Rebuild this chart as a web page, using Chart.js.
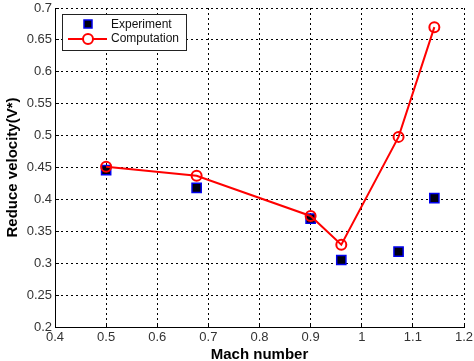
<!DOCTYPE html>
<html lang="en">

<head>
    <meta charset="UTF-8">
    <title>Reduce velocity vs Mach number</title>
    <script src="https://cdn.jsdelivr.net/npm/chart.js@4.4.0/dist/chart.umd.min.js"></script>
    <style>
        html, body { margin: 0; padding: 0; background: #fff; }
        #wrap { width: 474px; height: 361px; }
    </style>
</head>

<body>
    <div id="wrap"><canvas id="myChart" width="474" height="361"></canvas></div>

    <script>
        // values
        const machExp = [0.5, 0.677, 0.9, 0.96, 1.072, 1.142]
        const velExp = [0.446, 0.418, 0.37, 0.305, 0.318, 0.402]
        const machComp = [0.5, 0.677, 0.9, 0.96, 1.072, 1.142]
        const velComp = [0.451, 0.437, 0.374, 0.329, 0.498, 0.67]
        const xTicks = [0.4, 0.5, 0.6, 0.7, 0.8, 0.9, 1, 1.1, 1.2]
        const yTicks = [0.2, 0.25, 0.3, 0.35, 0.4, 0.45, 0.5, 0.55, 0.6, 0.65, 0.7]

        const FONT = "'Liberation Sans', Arial, sans-serif"

        const toPoints = (xs, ys) => xs.map((x, i) => ({ x: x, y: ys[i] }))

        // legend box drawn inside the plot, like matlab does
        const boxLegend = {
            id: 'boxLegend',
            afterDraw(chart) {
                const ctx = chart.ctx
                const a = chart.chartArea
                const x0 = a.left + 7, y0 = a.top + 6, w = 124, h = 36
                ctx.save()
                ctx.fillStyle = '#fff'
                ctx.fillRect(x0, y0, w, h)
                ctx.strokeStyle = '#222'
                ctx.lineWidth = 1
                ctx.strokeRect(x0 + 0.5, y0 + 0.5, w, h)

                const exp = chart.data.datasets[1]
                const comp = chart.data.datasets[0]
                const mx = x0 + 26
                const row1 = y0 + 10, row2 = y0 + 25

                // experiment marker
                ctx.fillStyle = exp.backgroundColor
                ctx.strokeStyle = exp.borderColor
                ctx.lineWidth = exp.borderWidth
                ctx.beginPath()
                ctx.rect(mx - 4, row1 - 4, 8, 8)
                ctx.fill()
                ctx.stroke()

                // computation line + circle
                ctx.strokeStyle = comp.borderColor
                ctx.lineWidth = comp.borderWidth
                ctx.beginPath()
                ctx.moveTo(x0 + 6, row2)
                ctx.lineTo(x0 + 45, row2)
                ctx.stroke()
                ctx.beginPath()
                ctx.arc(mx, row2, comp.pointRadius, 0, Math.PI * 2)
                ctx.fillStyle = '#fff'
                ctx.fill()
                ctx.stroke()

                ctx.fillStyle = '#111'
                ctx.font = '12px ' + FONT
                ctx.textBaseline = 'middle'
                ctx.textAlign = 'left'
                ctx.fillText(exp.label, x0 + 49, row1 + 1)
                ctx.fillText(comp.label, x0 + 49, row2)
                ctx.restore()
            }
        }

        function fixSize(size) {
            return function (scale) {
                if (scale.isHorizontal()) scale.height = size
                else scale.width = size
                scale.paddingTop = 0
                scale.paddingBottom = 0
                scale.paddingLeft = 0
                scale.paddingRight = 0
            }
        }

        const ctx = document.getElementById('myChart').getContext('2d')
        const myChart = new Chart(ctx, {
            type: 'scatter',
            data: {
                datasets: [{
                    label: 'Computation',
                    data: toPoints(machComp, velComp),
                    showLine: true,
                    borderColor: '#ff0000',
                    backgroundColor: 'rgba(255,255,255,0)',
                    borderWidth: 2,
                    pointStyle: 'circle',
                    pointRadius: 5,
                    pointBorderWidth: 2,
                    order: 0
                },
                {
                    label: 'Experiment',
                    data: toPoints(machExp, velExp),
                    showLine: false,
                    borderColor: '#0000ee',
                    backgroundColor: '#000010',
                    borderWidth: 1.5,
                    pointStyle: 'rect',
                    pointRadius: 6.5,
                    order: 1
                }]
            },
            options: {
                responsive: false,
                animation: false,
                layout: { padding: { top: 6, right: 10, left: 0, bottom: 0 } },
                plugins: {
                    legend: { display: false },
                    tooltip: { enabled: false }
                },
                scales: {
                    x: {
                        type: 'linear',
                        min: 0.4,
                        max: 1.2,
                        afterFit: fixSize(34),
                        afterBuildTicks: s => { s.ticks = xTicks.map(v => ({ value: v })) },
                        ticks: {
                            font: { family: FONT, size: 13 },
                            color: '#333',
                            padding: 7,
                            maxRotation: 0,
                            callback: v => String(v)
                        },
                        grid: { color: '#000', lineWidth: 1, tickLength: -4, tickColor: '#000' },
                        border: { display: true, color: '#000', width: 1, dash: [2, 3] },
                        title: {
                            display: true,
                            text: 'Mach number',
                            color: '#000',
                            font: { family: FONT, size: 15, weight: 'bold', lineHeight: 1 },
                            padding: { top: 0, bottom: -1 }
                        }
                    },
                    y: {
                        type: 'linear',
                        min: 0.2,
                        max: 0.7,
                        afterFit: fixSize(55),
                        afterBuildTicks: s => { s.ticks = yTicks.map(v => ({ value: v })) },
                        ticks: {
                            font: { family: FONT, size: 13 },
                            color: '#333',
                            padding: 7,
                            callback: v => String(v)
                        },
                        grid: { color: '#000', lineWidth: 1, tickLength: -4, tickColor: '#000' },
                        border: { display: true, color: '#000', width: 1, dash: [2, 3] },
                        title: {
                            display: true,
                            text: 'Reduce velocity(V*)',
                            color: '#000',
                            font: { family: FONT, size: 15, weight: 'bold', lineHeight: 1 },
                            padding: { top: 5, bottom: 0 }
                        }
                    }
                }
            },
            plugins: [boxLegend]
        })
    </script>
</body>

</html>
